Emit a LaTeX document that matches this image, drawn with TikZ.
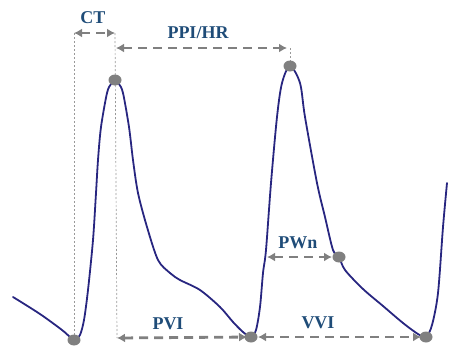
\documentclass[tikz,border=0pt]{standalone}
\usepackage{fontspec}
\setmainfont{Liberation Serif}
\usetikzlibrary{arrows.meta}
\definecolor{wavec}{RGB}{40,38,128}
\definecolor{labc}{RGB}{31,76,120}
\definecolor{markgray}{RGB}{128,128,128}
\begin{document}
\begin{tikzpicture}[x=1pt,y=-1pt,
        wave/.style={draw=wavec,line width=1.8pt,line join=round,line cap=round},
        dim/.style={draw=markgray,line width=2.8pt,dash pattern=on 9pt off 6pt,
            {Latex[length=8pt,width=9pt]}-{Latex[length=8pt,width=9pt]}},
        guide/.style={draw=markgray!80,line width=0.7pt,dash pattern=on 2pt off 2pt},
        lbl/.style={text=labc,font=\bfseries\fontsize{18}{18}\selectfont,inner sep=0pt}]
        \useasboundingbox (0,0) rectangle (474,362);
        \coordinate (t1) at (74,340);
        \coordinate (p1) at (115,80);
        \coordinate (p2) at (290,66);
        \coordinate (t2) at (251,337);
        \coordinate (pw) at (339,257);
        \coordinate (t3) at (426,337);
        \coordinate (ctl) at (74,33);
        \coordinate (ctr) at (115,33);
        \coordinate (ppl) at (116,48);
        \coordinate (ppr) at (290,48);
        \coordinate (pvl) at (117,338);
        \coordinate (pwl) at (267,257);
        \draw[guide] (ctl) -- (t1);
        \draw[guide] (ctr) -- (pvl);
        \draw[guide] (ppr) -- (p2);
        \draw[wave] plot[smooth,tension=0.5] coordinates {(13,297) (40,314) (62,330) (70,337) (75,340)
            (80,335) (84,320) (88,290) (93,240) (96,193) (98,160) (101,127) (107,93) (111,84) (115,80)
            (119,84) (123,93) (129,127) (133,160) (138,193) (147,227) (158,260) (170,273) (180,280)
            (200,290) (220,307) (233,322) (243,332) (251,337)
            (256,330) (260,307) (263,273) (266,250) (271,183) (277,117) (282,83) (290,66)
            (300,83) (305,117) (317,183) (325,217) (333,250) (339,257)
            (345,270) (363,289) (383,306) (403,323) (418,334) (426,337)
            (432,325) (438,293) (443,227) (447,183)};
        \draw[dim] (ctl) -- (ctr);
        \draw[dim,shorten >=3pt] (ppl) -- (ppr);
        \draw[dim,shorten >=7pt] (pwl) -- (pw);
        \draw[dim,shorten >=4pt] (pvl) -- (t2);
        \draw[dim,shorten <=7pt,shorten >=5pt] (t2) -- (t3);
        \foreach \p in {t1,p1,p2,t2,pw,t3} {
            \fill[markgray] (\p) ellipse (6.5 and 5.5);
        }
        \node[lbl] (ct) at (93,18) {CT};
        \node[lbl] (pp) at (198,33) {PPI/HR};
        \node[lbl] (pwn) at (298,243) {PWn};
        \node[lbl] (pvi) at (168,324) {PVI};
        \node[lbl] (vvi) at (318,323) {VVI};
\end{tikzpicture}
\end{document}
